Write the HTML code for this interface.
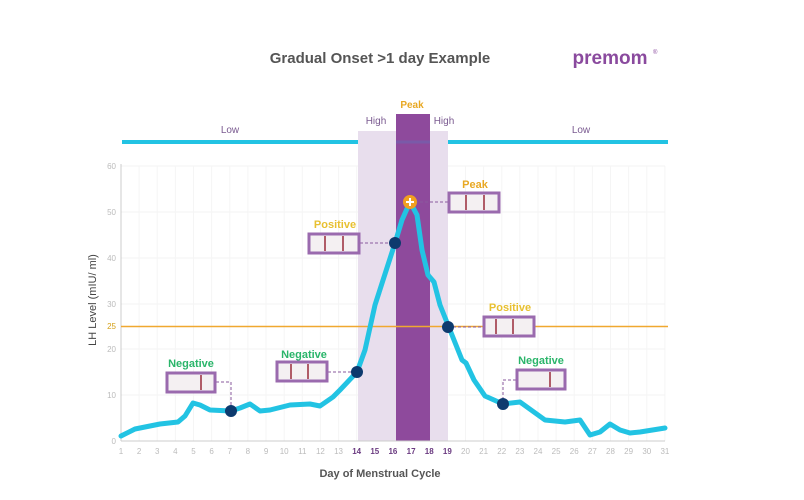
<!DOCTYPE html>
<html><head><meta charset="utf-8"><style>
html,body{margin:0;padding:0;background:#fff;}
svg{display:block;font-family:"Liberation Sans",sans-serif;}
</style></head><body>
<svg width="804" height="500" viewBox="0 0 804 500" xmlns="http://www.w3.org/2000/svg">
<rect width="804" height="500" fill="#fff"/>
<text x="380" y="63" text-anchor="middle" font-size="15" font-weight="bold" fill="#555">Gradual Onset &gt;1 day Example</text>
<text x="610" y="64" text-anchor="middle" font-size="19" font-weight="bold" fill="#8a4a9e">premom</text>
<text x="653" y="54" font-size="6" fill="#8a4a9e">®</text>
<!-- grid -->
<g stroke="#f3f3f3" stroke-width="1">
<line x1="121" y1="395" x2="665" y2="395"/><line x1="121" y1="349" x2="665" y2="349"/><line x1="121" y1="304" x2="665" y2="304"/><line x1="121" y1="258" x2="665" y2="258"/><line x1="121" y1="212" x2="665" y2="212"/><line x1="121" y1="166" x2="665" y2="166"/>
</g>
<g id="vg" stroke="#f5f5f5" stroke-width="1"></g>
<!-- shaded -->
<rect x="358" y="131" width="90" height="310" fill="#e8deed"/>
<rect x="396" y="114" width="34" height="327" fill="#8e4a9c"/>
<!-- axes -->
<line x1="121" y1="164" x2="121" y2="441" stroke="#ccc"/>
<line x1="121" y1="441" x2="665" y2="441" stroke="#ccc"/>
<g font-size="8" fill="#bbb" text-anchor="end">
<text x="116" y="444">0</text><text x="116" y="398">10</text><text x="116" y="352">20</text><text x="116" y="307">30</text><text x="116" y="261">40</text><text x="116" y="215">50</text><text x="116" y="169">60</text>
<text x="116" y="329" fill="#d4a017">25</text>
</g>
<line x1="121" y1="326.5" x2="668" y2="326.5" stroke="#f0a830" stroke-width="1.5"/>
<text x="96" y="300" transform="rotate(-90 96 300)" text-anchor="middle" font-size="11" fill="#444">LH Level (mIU/ ml)</text>
<g id="xl" font-size="8" fill="#bbb" text-anchor="middle"></g>
<text x="380" y="477" text-anchor="middle" font-size="11" font-weight="bold" fill="#555">Day of Menstrual Cycle</text>
<!-- top bars -->
<line x1="122" y1="142" x2="358" y2="142" stroke="#22c3e3" stroke-width="4"/>
<line x1="448" y1="142" x2="668" y2="142" stroke="#22c3e3" stroke-width="4"/>
<line x1="396" y1="142" x2="430" y2="142" stroke="#7a5aa8" stroke-width="3"/>
<g font-size="10" text-anchor="middle" fill="#7a5a90">
<text x="230" y="133">Low</text><text x="581" y="133">Low</text>
<text x="376" y="124">High</text><text x="444" y="124">High</text>
</g>
<text x="412" y="108" text-anchor="middle" font-size="10" font-weight="bold" fill="#e8a823">Peak</text>
<!-- curve -->
<path d="M121,436 L135,429 L160,424 L178,422 L185,416 L193,403 L200,405 L210,410 L231,411 L240,408 L250,404 L260,411 L270,410 L290,405 L310,404 L320,406 L333,397 L340,390 L357,372 L365,350 L375,305 L395,243 L402,220 L410,202 L417,215 L422,250 L428,275 L434,282 L440,305 L450,330 L462,360 L466,363 L474,380 L485,396 L503,404 L520,402 L545,420 L565,422 L580,420 L590,435 L600,432 L610,424 L620,430 L630,433 L640,432 L665,428" fill="none" stroke="#22c3e3" stroke-width="5" stroke-linejoin="round" stroke-linecap="round"/>
<!-- dashed connectors -->
<g stroke="#8a5a9e" stroke-dasharray="3,2" fill="none" stroke-width="1">
<path d="M216,382 H231 V411"/>
<path d="M328,372 H357"/>
<path d="M360,243 H395"/>
<path d="M410,202 H448"/>
<path d="M448,327 H483"/>
<path d="M516,380 H503 V404"/>
</g>
<!-- markers -->
<g fill="#0d3a6e">
<circle cx="231" cy="411" r="6"/><circle cx="357" cy="372" r="6"/><circle cx="395" cy="243" r="6"/><circle cx="448" cy="327" r="6"/><circle cx="503" cy="404" r="6"/>
</g>
<circle cx="410" cy="202" r="7" fill="#f0a020"/>
<path d="M410,198 V206 M406,202 H414" stroke="#fff" stroke-width="2"/>
<!-- test boxes -->
<g stroke="#9a6aae" stroke-width="3" fill="#f4f0f2">
<rect x="167" y="373" width="48" height="19"/>
<rect x="277" y="362" width="50" height="19"/>
<rect x="309" y="234" width="50" height="19"/>
<rect x="449" y="193" width="50" height="19"/>
<rect x="484" y="317" width="50" height="19"/>
<rect x="517" y="370" width="48" height="19"/>
</g>
<g stroke="#9a2a3a" stroke-width="1.5">
<line x1="201" y1="375" x2="201" y2="390"/>
<line x1="291" y1="364" x2="291" y2="379"/><line x1="308" y1="364" x2="308" y2="379"/>
<line x1="325" y1="236" x2="325" y2="251"/><line x1="343" y1="236" x2="343" y2="251"/>
<line x1="466" y1="195" x2="466" y2="210"/><line x1="484" y1="195" x2="484" y2="210"/>
<line x1="496" y1="319" x2="496" y2="334"/><line x1="513" y1="319" x2="513" y2="334"/>
<line x1="550" y1="372" x2="550" y2="387"/>
</g>
<g font-size="11" font-weight="bold" text-anchor="middle">
<text x="191" y="367" fill="#2ab56a">Negative</text>
<text x="304" y="358" fill="#2ab56a">Negative</text>
<text x="335" y="228" fill="#e8c030">Positive</text>
<text x="475" y="188" fill="#e8a823">Peak</text>
<text x="510" y="311" fill="#e8c030">Positive</text>
<text x="541" y="364" fill="#2ab56a">Negative</text>
</g>
</svg>
<script>
var xl=document.getElementById('xl'),vg=document.getElementById('vg'),ns='http://www.w3.org/2000/svg';
for(var d=1;d<=31;d++){var x=121+(d-1)*18.13;
var t=document.createElementNS(ns,'text');t.setAttribute('x',x);t.setAttribute('y',454);t.textContent=d;
if(d>=14&&d<=19){t.setAttribute('fill','#6a3a80');t.setAttribute('font-weight','bold');}
xl.appendChild(t);
var l=document.createElementNS(ns,'line');l.setAttribute('x1',x);l.setAttribute('x2',x);l.setAttribute('y1',166);l.setAttribute('y2',441);vg.appendChild(l);}
</script>
</body></html>
